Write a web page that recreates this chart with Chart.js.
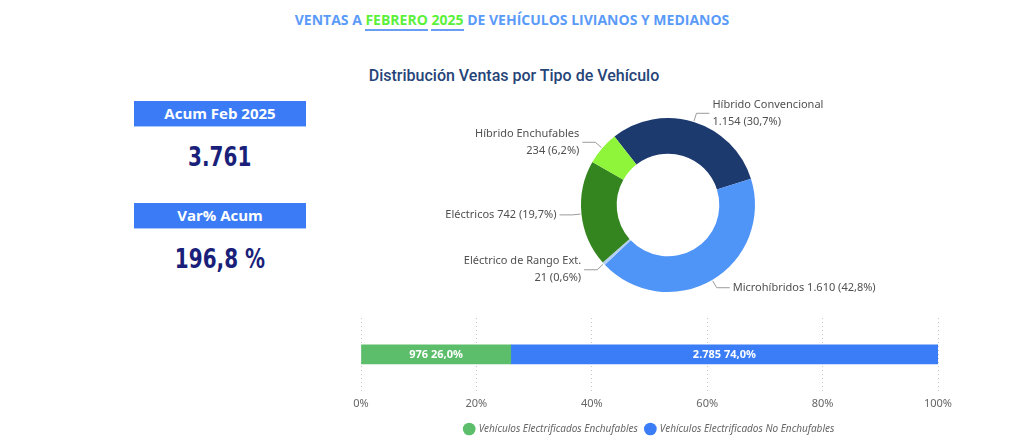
<!DOCTYPE html>
<html>
<head>
<meta charset="utf-8">
<script src="https://cdn.jsdelivr.net/npm/chart.js@4"></script>
<style>
  body { margin: 0; width: 1024px; height: 440px; background: #fff; position: relative; overflow: hidden; font-family: "Open Sans", sans-serif; }
  .title { position: absolute; left: 0; width: 1024px; top: 10px; text-align: center; font-weight: 700; font-size: 14px; color: #5b9bf8; }
  .title .hl { color: #5cf03c; border-bottom: 2px solid #6a9ef5; }
  .sub { position: absolute; left: 0; width: 1024px; top: 66px; text-align: center; padding-left: 2px; font-family: Roboto, sans-serif; font-weight: 500; font-size: 16px; color: #264478; }
  .kbox { position: absolute; left: 134px; width: 172px; height: 25px; background: #3b7cf6; color: #fff; text-align: center; font-weight: 700; font-size: 15px; line-height: 25px; border-bottom: 1px solid #a9c4f8; }
  .kval { position: absolute; left: 134px; width: 172px; text-align: center; font-family: "DejaVu Sans", sans-serif; font-weight: 700; font-size: 27px; color: #1a1f7a; }
  .kval span { display: inline-block; transform: scaleX(0.74); }
  #donutWrap { position: absolute; left: 430px; top: 90px; width: 500px; height: 230px; }
  #barWrap { position: absolute; left: 330px; top: 310px; width: 660px; height: 134px; }
</style>
</head>
<body>
<div class="title">VENTAS A <span class="hl">FEBRERO</span> <span class="hl">2025</span> DE VEHÍCULOS LIVIANOS Y MEDIANOS</div>
<div class="sub">Distribución Ventas por Tipo de Vehículo</div>
<div id="kpis"></div>
<div id="donutWrap"><canvas id="donut"></canvas></div>
<div id="barWrap"><canvas id="bar"></canvas></div>
<script>
// KPI cards
const kpiLabels = ["Acum Feb 2025", "Var% Acum"];
const kpiValues = ["3.761", "196,8 %"];

// donut: sales by vehicle type (clockwise from the top-right)
const tipos = ["Híbrido Convencional", "Microhíbridos", "Eléctrico de Rango Ext.", "Eléctricos", "Híbrido Enchufables"];
const ventasTipo = [1154, 1610, 21, 742, 234];
const tipoColors = ["#1d3a6f", "#4f94f7", "#b3cff5", "#348520", "#8ef53a"];

// stacked bar: plug-in vs non plug-in
const grupos = ["Vehículos Electrificados Enchufables", "Vehículos Electrificados No Enchufables"];
const ventasGrupo = [976, 2785];
const grupoColors = ["#5cbd6b", "#3a7df7"];
const pctTicks = [0, 20, 40, 60, 80, 100];

function fmtInt(n) {
  return String(n).replace(/\B(?=(\d{3})+(?!\d))/g, ".");
}
function fmtPct(v) {
  return v.toFixed(1).replace(".", ",") + "%";
}

// cards
const kpiTops = [101, 203];
const kpis = document.getElementById("kpis");
kpiLabels.forEach((lab, i) => {
  const b = document.createElement("div");
  b.className = "kbox";
  b.style.top = kpiTops[i] + "px";
  b.textContent = lab;
  kpis.appendChild(b);
  const v = document.createElement("div");
  v.className = "kval";
  v.style.top = (kpiTops[i] + 40) + "px";
  const s = document.createElement("span");
  s.textContent = kpiValues[i];
  v.appendChild(s);
  kpis.appendChild(v);
});

const totalTipo = ventasTipo.reduce((a, b) => a + b, 0);
const splitLabel = [true, false, true, false, true];

const leaderLabels = {
  id: "leaderLabels",
  afterDraw(chart) {
    const ctx = chart.ctx;
    const arcs = chart.getDatasetMeta(0).data;
    ctx.save();
    ctx.font = '11px "Noto Sans", sans-serif';
    ctx.fillStyle = "#505050";
    ctx.strokeStyle = "#9a9a9a";
    ctx.lineWidth = 1;
    ctx.textBaseline = "middle";
    arcs.forEach((arc, i) => {
      const mid = (arc.startAngle + arc.endAngle) / 2;
      const r = arc.outerRadius;
      const x0 = arc.x + Math.cos(mid) * (r + 1);
      const y0 = arc.y + Math.sin(mid) * (r + 1);
      const x1 = arc.x + Math.cos(mid) * (r + 9);
      const y1 = arc.y + Math.sin(mid) * (r + 9);
      const right = Math.cos(mid) >= 0;
      const x2 = x1 + (right ? 13 : -13);
      ctx.beginPath();
      ctx.moveTo(x0, y0);
      ctx.lineTo(x1, y1);
      ctx.lineTo(x2, y1);
      ctx.stroke();
      const val = fmtInt(ventasTipo[i]) + " (" + fmtPct(ventasTipo[i] / totalTipo * 100) + ")";
      const lines = splitLabel[i] ? [tipos[i], val] : [tipos[i] + " " + val];
      ctx.textAlign = right ? "left" : "right";
      const tx = x2 + (right ? 3 : -3);
      const lh = 17;
      lines.forEach((ln, k) => {
        ctx.fillText(ln, tx, y1 + (k - (lines.length - 1) / 2) * lh);
      });
    });
    ctx.restore();
  }
};

new Chart(document.getElementById("donut"), {
  type: "doughnut",
  data: {
    labels: tipos,
    datasets: [{ data: ventasTipo, backgroundColor: tipoColors, borderWidth: 0 }]
  },
  options: {
    responsive: true,
    maintainAspectRatio: false,
    animation: false,
    rotation: -38,
    cutout: "59%",
    layout: { padding: { left: 151, right: 175, top: 28, bottom: 28 } },
    plugins: { legend: { display: false }, tooltip: { enabled: false } }
  },
  plugins: [leaderLabels]
});

const totalGrupo = ventasGrupo.reduce((a, b) => a + b, 0);
const pctGrupo = ventasGrupo.map(v => v / totalGrupo * 100);

const barLabels = {
  id: "barLabels",
  afterDatasetsDraw(chart) {
    const ctx = chart.ctx;
    ctx.save();
    ctx.font = 'bold 11px "Noto Sans", sans-serif';
    ctx.fillStyle = "#ffffff";
    ctx.textAlign = "center";
    ctx.textBaseline = "middle";
    chart.data.datasets.forEach((ds, i) => {
      const bar = chart.getDatasetMeta(i).data[0];
      const cx = (bar.x + bar.base) / 2;
      ctx.fillText(fmtInt(ventasGrupo[i]) + " " + fmtPct(pctGrupo[i]), cx, bar.y);
    });
    ctx.restore();
  }
};

new Chart(document.getElementById("bar"), {
  type: "bar",
  data: {
    labels: ["Total"],
    datasets: grupos.map((g, i) => ({
      label: g,
      data: [pctGrupo[i]],
      backgroundColor: grupoColors[i],
      borderWidth: 0,
      barThickness: 19
    }))
  },
  options: {
    indexAxis: "y",
    responsive: true,
    maintainAspectRatio: false,
    animation: false,
    layout: { padding: { left: 31, right: 52, top: 8, bottom: 0 } },
    scales: {
      x: {
        stacked: true,
        min: 0,
        max: 100,
        afterBuildTicks(axis) { axis.ticks = pctTicks.map(v => ({ value: v })); },
        ticks: {
          callback: v => v + "%",
          color: "#666",
          font: { family: '"Noto Sans", sans-serif', size: 11 },
          padding: 6,
          maxRotation: 0
        },
        grid: { color: "#c8c8c8", drawTicks: false },
        border: { display: false, dash: [1, 3] }
      },
      y: { stacked: true, display: false }
    },
    plugins: {
      tooltip: { enabled: false },
      legend: {
        position: "bottom",
        labels: {
          usePointStyle: true,
          pointStyle: "circle",
          boxWidth: 9,
          boxHeight: 9,
          padding: 8,
          color: "#666",
          font: { family: '"Noto Sans", sans-serif', size: 10, style: "italic" }
        }
      }
    }
  },
  plugins: [barLabels]
});
</script>
</body>
</html>
